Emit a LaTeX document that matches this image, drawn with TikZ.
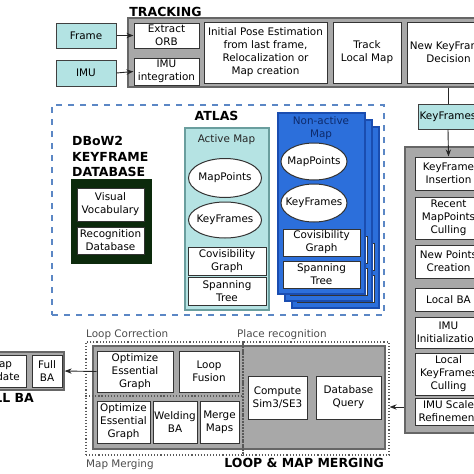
\documentclass[tikz,border=0pt]{standalone}
\usepackage{fontspec}
\setmainfont{DejaVu Sans}
\usetikzlibrary{arrows.meta,shapes.geometric}
\definecolor{inteal}{HTML}{B3E3E3}
\definecolor{actteal}{HTML}{B5E3E3}
\definecolor{actedge}{HTML}{6A9E9E}
\definecolor{nonactive}{HTML}{2C6FDB}
\definecolor{naedge}{HTML}{1A4DB0}
\definecolor{navytxt}{HTML}{0D2A6B}
\definecolor{atlasblue}{HTML}{5B87C5}
\definecolor{dbowgreen}{HTML}{0C2A0C}

\begin{document}
\begin{tikzpicture}[x=1pt, y=-1pt, >=Stealth, font=\fontsize{10.4}{13}\selectfont,
  sz/.style 2 args={minimum width=#1pt, minimum height=#2pt},
  grayblk/.style={draw=black!60, fill=black!34, line width=1.2pt},
  wbox/.style={draw=black!80, fill=white, line width=1pt, align=center, inner sep=1pt},
  inbox/.style={draw=black!75, fill=inteal, line width=1pt, align=center, inner sep=1pt},
  ellip/.style={ellipse, draw=black!80, fill=white, line width=1pt, inner xsep=-8pt, inner ysep=0pt},
  titlelbl/.style={font=\fontsize{12.5}{15.5}\selectfont\bfseries, inner sep=0pt},
  sublbl/.style={text=black!70, inner sep=0pt},
  dotbox/.style={draw=black!65, dotted, line width=1.1pt},
  link/.style={->, line width=0.9pt, black!85}]
  \useasboundingbox (0,0) rectangle (474,474);
  \clip (0,0) rectangle (474,474);

  %% Tracking thread
  \node[grayblk, sz={362}{69}] (trkblk) at (309,52.5) {};
  \node[titlelbl] (trklbl) at (165.5,11.5) {TRACKING};
  \node[inbox, sz={60}{25}] (frame) at (86,35.5) {Frame};
  \node[inbox, sz={60}{26}] (imu) at (86,73) {IMU};
  \node[wbox, sz={65}{25}] (extorb) at (166.5,35.5) {Extract\\ORB};
  \node[wbox, sz={65}{27}] (imuint) at (166.5,71.5) {IMU\\integration};
  \node[wbox, sz={123}{61}] (initpose) at (265.5,52.5) {Initial Pose Estimation\\from last frame,\\Relocalization or\\Map creation};
  \node[wbox, sz={68}{61}] (trklocal) at (367,52.5) {Track\\Local Map};
  \node[wbox, sz={83}{61}] (newkf) at (448.5,52.5) {New KeyFrame\\Decision};
  \draw[link] (frame.east) -- (extorb.west);
  \draw[link] (imu.east) -- (imuint.west);

  %% KeyFrames handed to local mapping
  \node[inbox, sz={60}{25}] (kfs) at (448,116.5) {KeyFrames};
  \draw[line width=0.9pt, black!85] (trkblk.south -| kfs.north) -- (kfs.north);

  %% Local mapping thread
  \node[grayblk, sz={87}{286}] (lmap) at (448.5,290) {};
  \node[wbox, sz={67}{33}] (kfins) at (448.5,173.5) {KeyFrame\\Insertion};
  \node[wbox, sz={67}{42}] (mpcull) at (448.5,218) {Recent\\MapPoints\\Culling};
  \node[wbox, sz={67}{33}] (newpts) at (448.5,261.5) {New Points\\Creation};
  \node[wbox, sz={67}{23}] (localba) at (448.5,299.5) {Local BA};
  \node[wbox, sz={67}{31}] (imuinit) at (448.5,332.5) {IMU\\Initialization};
  \node[wbox, sz={67}{42}] (kfcull) at (448.5,374) {Local\\KeyFrames\\Culling};
  \node[wbox, sz={67}{27}] (imuscale) at (448.5,411.5) {IMU Scale\\Refinement};
  \draw[link] (kfs.south) -- (kfins.north);

  %% Atlas
  \node[draw=atlasblue, dash pattern=on 6pt off 6pt, line width=1.7pt, sz={332}{210}] (atlas) at (218,210) {};
  \node[titlelbl] (atlaslbl) at (216.5,115.5) {ATLAS};

  %% DBoW2 database
  \node[titlelbl, anchor=north west, align=left] (dbowlbl) at (72,136.5) {DBoW2\\KEYFRAME\\DATABASE};
  \node[fill=dbowgreen, sz={81}{85}] (dbow) at (111.5,221.5) {};
  \node[wbox, sz={67}{33}] (vocab) at (110.5,204.5) {Visual\\Vocabulary};
  \node[wbox, sz={67}{27}] (recog) at (110.5,240.5) {Recognition\\Database};

  %% Active map
  \node[draw=actedge, fill=actteal, line width=1.2pt, sz={84}{182}] (actmap) at (227,219) {};
  \node[inner sep=0pt, text=black!85, anchor=base] (actlbl) at (226.5,142.7) {Active Map};
  \node[ellip, sz={73}{39}] (actmp) at (225,178) {MapPoints};
  \node[ellip, sz={73}{36}] (actkf) at (225,220) {KeyFrames};
  \node[wbox, sz={78}{28}] (actcov) at (227,261) {Covisibility\\Graph};
  \node[wbox, sz={78}{28}] (actspan) at (227,291) {Spanning\\Tree};

  %% Non-active maps (stack)
  \foreach \s in {14,7}{
    \filldraw[fill=nonactive, draw=naedge, line width=1.2pt] (278+\s,113+\s) rectangle ++(87,181);
    \filldraw[fill=white, draw=black!80, line width=1pt] (283+\s,229+\s) rectangle ++(77,27);
    \filldraw[fill=white, draw=black!80, line width=1pt] (283+\s,261+\s) rectangle ++(77,27);
  }
  \node[fill=nonactive, draw=naedge, line width=1.2pt, sz={87}{181}] (namap) at (321.5,203.5) {};
  \node[align=center, text=navytxt, inner sep=0pt] (nalbl) at (321,127.8) {Non-active\\Map};
  \node[ellip, sz={66}{37}] (namp) at (314,161.5) {MapPoints};
  \node[ellip, sz={66}{38}] (nakf) at (314,203) {KeyFrames};
  \node[wbox, sz={77}{27}] (nacov) at (321.5,242.5) {Covisibility\\Graph};
  \node[wbox, sz={77}{27}] (naspan) at (321.5,274.5) {Spanning\\Tree};

  %% Loop & map merging thread
  \node[grayblk, sz={292}{103}] (loopblk) at (239,397.5) {};
  \node[dotbox, sz={157}{54}] (loopcorr) at (164.5,369) {};
  \node[dotbox, sz={157}{59}] (mapmerge) at (164.5,425.5) {};
  \node[dotbox, sz={146}{113}] (placerec) at (316,398.5) {};
  \node[sublbl, anchor=base west] (lclbl) at (86,337) {Loop Correction};
  \node[sublbl, anchor=base west] (prlbl) at (237,337.5) {Place recognition};
  \node[sublbl, anchor=base west] (mmlbl) at (86,467) {Map Merging};
  \node[titlelbl, anchor=east] (loopttl) at (384,462.5) {LOOP \& MAP MERGING};
  \node[wbox, sz={76}{41}] (oegloop) at (135,371.5) {Optimize\\Essential\\Graph};
  \node[wbox, sz={60}{41}] (loopfus) at (209,371.5) {Loop\\Fusion};
  \node[wbox, sz={53}{42}] (oegmerge) at (123.5,422) {Optimize\\Essential\\Graph};
  \node[wbox, sz={44}{42}] (welding) at (175,422) {Welding\\BA};
  \node[wbox, sz={39}{42}] (mergemaps) at (219.5,422) {Merge\\Maps};
  \node[wbox, sz={59}{43}] (sim3) at (277.5,397.5) {Compute\\Sim3/SE3};
  \node[wbox, sz={65}{43}] (dbquery) at (348.5,397.5) {Database\\Query};
  \coordinate (lmlink) at (0,407);
  \draw[link] (lmap.west |- lmlink) -- (placerec.east |- lmlink);

  %% Full BA thread
  \node[grayblk, sz={104}{38}] (fullbablk) at (12,371) {};
  \node[wbox, sz={51}{32}] (mapupd) at (1,371) {Map\\Update};
  \node[wbox, sz={30}{32}] (fullba) at (47,371) {Full\\BA};
  \node[titlelbl, anchor=east] (fullbattl) at (34,398) {FULL BA};
  \draw[link] (oegloop.west) -- (fullbablk.east);
\end{tikzpicture}
\end{document}
